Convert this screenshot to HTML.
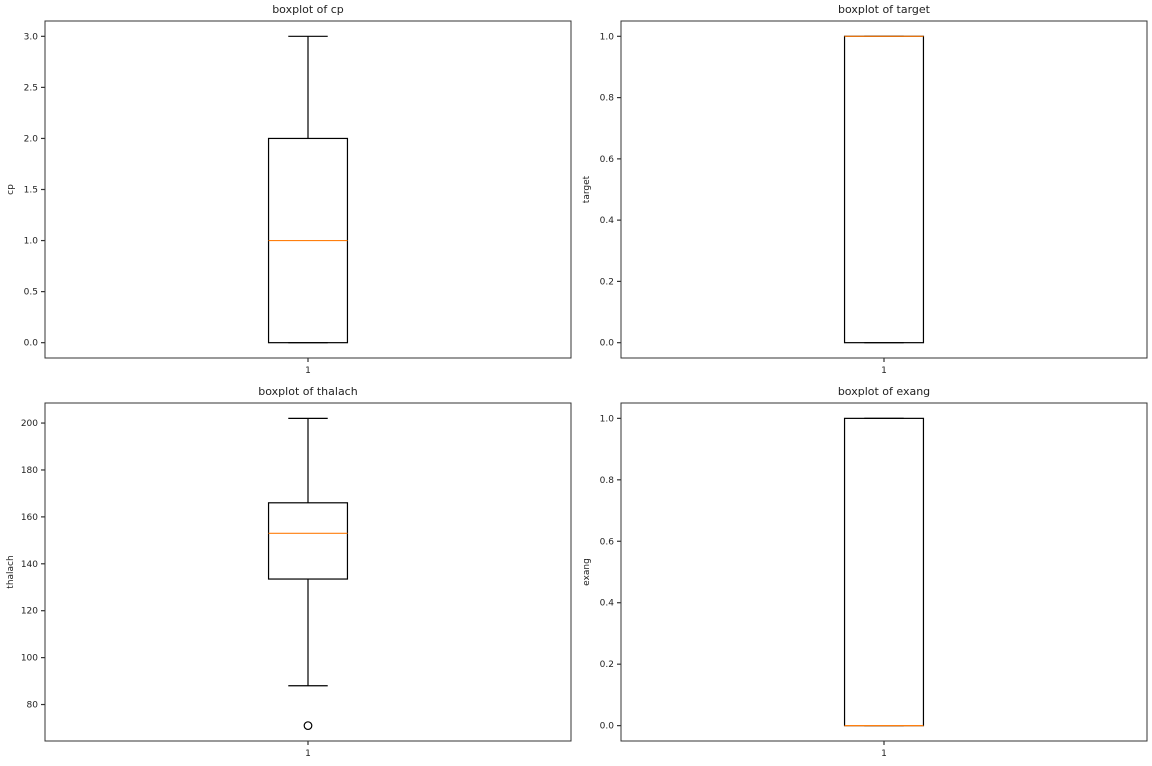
<!DOCTYPE html>
<html><head><meta charset="utf-8"><style>
body{margin:0;background:#fff;}
svg{display:block;font-family:"DejaVu Sans","Liberation Sans",sans-serif;}
</style></head><body>
<svg id="fig" width="1152" height="766"></svg>
<script>
const titles = ["boxplot of cp","boxplot of target","boxplot of thalach","boxplot of exang"];
const ylabels = ["cp","target","thalach","exang"];
const whiskLow = [0, 0, 88, 0];
const q1s = [0, 0, 133.5, 0];
const medians = [1, 1, 153, 0];
const q3s = [2, 1, 166, 1];
const whiskHigh = [3, 1, 202, 1];
const outliers = [[], [], [71], []];
const ticks = [[0,0.5,1,1.5,2,2.5,3],[0,0.2,0.4,0.6,0.8,1],[80,100,120,140,160,180,200],[0,0.2,0.4,0.6,0.8,1]];
const tickLabels = [["0.0","0.5","1.0","1.5","2.0","2.5","3.0"],["0.0","0.2","0.4","0.6","0.8","1.0"],["80","100","120","140","160","180","200"],["0.0","0.2","0.4","0.6","0.8","1.0"]];
const boxes = [[45,21,526,337],[621,21,526,337],[45,403,526,338],[621,403,526,338]];
const NS="http://www.w3.org/2000/svg";
const svg=document.getElementById('fig');
function mk(t,a,p){const e=document.createElementNS(NS,t);for(const k in a)e.setAttribute(k,a[k]);(p||svg).appendChild(e);return e;}
for(let i=0;i<4;i++){
  const [x0,y0,w,h]=boxes[i];
  const g=mk('g',{});
  
  
  let lo=Math.min(whiskLow[i],...outliers[i]), hi=Math.max(whiskHigh[i],...outliers[i]);
  const pad=(hi-lo)*0.05; lo-=pad; hi+=pad;
  const y=v=>y0+h-(v-lo)/(hi-lo)*h;
  const x=v=>x0+(v-0.5)*w;
  const cx=x(1), bw=0.15*w, cw=bw/2;
  const line=(a,b,c,d,col,n)=>{const l=mk('line',{x1:a,y1:b,x2:c,y2:d,stroke:col||'#000','stroke-width':1.2},g);return l;};
  line(cx,y(whiskLow[i]),cx,y(q1s[i]),'#000','lower-whisker');
  line(cx,y(q3s[i]),cx,y(whiskHigh[i]),'#000','upper-whisker');
  line(cx-cw/2,y(whiskLow[i]),cx+cw/2,y(whiskLow[i]),'#000','lower-cap');
  line(cx-cw/2,y(whiskHigh[i]),cx+cw/2,y(whiskHigh[i]),'#000','upper-cap');
  const r=mk('rect',{x:cx-bw/2,y:y(q3s[i]),width:bw,height:Math.max(0,y(q1s[i])-y(q3s[i])),fill:'none',stroke:'#000','stroke-width':1.2},g);
  
  
  line(cx-bw/2,y(medians[i]),cx+bw/2,y(medians[i]),'#ff7f0e','median-line');
  outliers[i].forEach(o=>{const c=mk('circle',{cx:cx,cy:y(o),r:3.8,fill:'none',stroke:'#000','stroke-width':1.2},g);
    
    });
  const fr=mk('rect',{x:x0,y:y0,width:w,height:h,fill:'none',stroke:'#333','stroke-width':1},g);
  
  
  ticks[i].forEach((t,j)=>{
    line(x0-4,y(t),x0,y(t),'#333','y-tick');
    const tx=mk('text',{x:x0-7,y:y(t)+3,'font-size':9,'text-anchor':'end',fill:'#222'},g);
    tx.textContent=tickLabels[i][j];
    
    
  });
  line(cx,y0+h,cx,y0+h+4,'#333','x-tick');
  const xl=mk('text',{x:cx,y:y0+h+15,'font-size':9,'text-anchor':'middle',fill:'#222'},g);
  xl.textContent='1';
  
  
  const tt=mk('text',{x:x0+w/2,y:y0-8,'font-size':11,'text-anchor':'middle',fill:'#222'},g);
  tt.textContent=titles[i];
  
  
  const yl=mk('text',{x:0,y:0,'font-size':9,'text-anchor':'middle',fill:'#222',transform:`translate(${x0-32},${y0+h/2}) rotate(-90)`},g);
  yl.textContent=ylabels[i];
  
  
}
</script>
</body></html>
